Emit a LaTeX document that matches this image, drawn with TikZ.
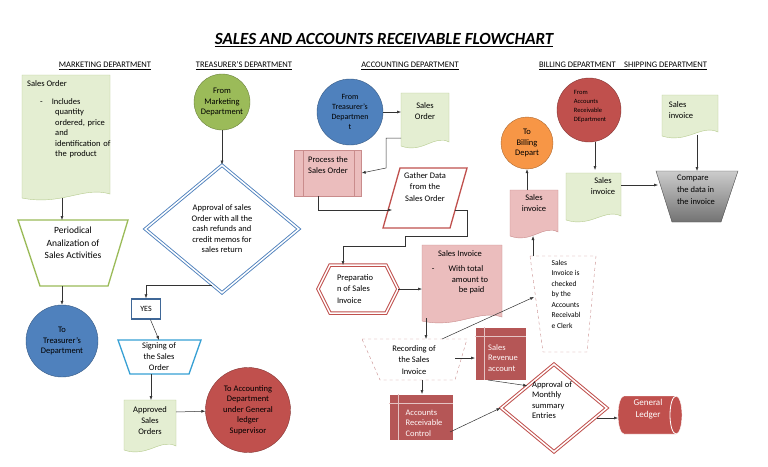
\documentclass[tikz,border=0pt]{standalone}
\usepackage{fontspec}
\setmainfont{Carlito}
\usetikzlibrary{arrows.meta,calc,shapes.geometric}
\definecolor{gfill}{HTML}{E4EED2}\definecolor{gline}{HTML}{B6CB8E}
\definecolor{pfill}{HTML}{EBBDBD}\definecolor{pline}{HTML}{C98C8C}
\definecolor{dred}{HTML}{A83838}\definecolor{mred}{HTML}{C0504D}
\definecolor{bblue}{HTML}{4F81BD}\definecolor{orng}{HTML}{F79646}
\definecolor{grn}{HTML}{9BBB59}
\newcommand{\wdoc}[5]{%
 \pgfmathsetmacro{\ww}{#3-#1}
 \draw[#5] (#1,#2) -- (#3,#2) -- (#3,#4-6) .. controls ({#3-0.3*\ww},{#4-14}) and ({#1+0.45*\ww},{#4+6}) .. (#1,#4-2) -- cycle;}
\newcommand{\tbl}[4]{%
 \fill[dred!85, draw=white] (#1,#2) rectangle (#3,#4);
 \draw[white!70!dred] (#1,#2+9) -- (#3,#2+9) (#1+9,#2) -- (#1+9,#4);}
\tikzset{
 lbl/.style={font=\fontsize{8.5}{10.5}\selectfont, align=center, inner sep=0pt},
 hdr/.style={font=\fontsize{8.5}{10}\selectfont, inner sep=1pt},
 arr/.style={-{Latex[length=4pt,width=3pt]}, black!80, line width=0.5pt},
 circ/.style={circle, inner sep=0pt, font=\fontsize{8.5}{10.5}\selectfont, align=center, draw=#1!70!black, fill=#1},
}
\begin{document}
\begin{tikzpicture}[x=1pt,y=-1pt]
\useasboundingbox (0,0) rectangle (768,466);
\fill[white] (0,0) rectangle (768,466);
% title and headers
\node (title) at (384,40) {\fontsize{17}{20}\selectfont\bfseries\itshape\underline{SALES AND ACCOUNTS RECEIVABLE FLOWCHART}};
\node[hdr] (h1) at (105,66) {\underline{MARKETING DEPARTMENT}};
\node[hdr] (h2) at (244,66) {\underline{TREASURER'S DEPARTMENT}};
\node[hdr] (h3) at (410,66) {\underline{ACCOUNTING DEPARTMENT}};
\node[hdr] (h4) at (623,66) {\underline{BILLING DEPARTMENT\quad SHIPPING DEPARTMENT}};
% ---------- marketing
\wdoc{22}{75}{110}{200}{fill=gfill, draw=gline}
\node[lbl, anchor=north west, align=left] (so1) at (27,80) {Sales Order};
\node[lbl, anchor=north west, align=left, text width=75pt] (so1t) at (40,98) {-\hspace{9pt}Includes\\\hspace{15pt}quantity\\\hspace{15pt}ordered, price\\\hspace{15pt}and\\\hspace{15pt}identification of\\\hspace{15pt}the product};
\coordinate (so1b) at (62,198);
\draw[grn, line width=1.3pt] (18,220) -- (128,220) -- (108,286) -- (40,286) -- cycle;
\coordinate (pa) at (62,220);
\node[lbl, font=\fontsize{9.5}{12.5}\selectfont] (pat) at (73,243) {Periodical\\Analization of\\Sales Activities};
\coordinate (pab) at (62,286);
\node[circ=bblue, minimum size=72pt] (tt) at (62,341) {To\\Treasurer's\\Department};
\draw[arr] (so1b) -- (pa);
\draw[arr] (pab) -- (tt);
% ---------- treasurer
\node[circ=grn, minimum size=56pt] (fm) at (222,102) {From\\Marketing\\Department};
\node[diamond, draw=bblue, double=white, double distance=1.5pt, line width=0.9pt, fill=white, minimum width=154pt, minimum height=128pt, inner sep=0pt] (ap) at (222,229) {};
\node[lbl] (apt) at (222,229) {Approval of sales\\Order with all the\\cash refunds and\\credit memos for\\sales return};
\node[draw=bblue!80!black, line width=1.3pt, minimum width=29pt, minimum height=20pt, inner sep=0pt, font=\fontsize{8}{9}\selectfont] (yes) at (146,309) {YES};
\draw[cyan!60!bblue, line width=1.3pt] (118,340) -- (201,340) -- (189,374) -- (130,374) -- cycle;
\coordinate (sgt) at (159,340); \coordinate (sgb) at (151,374);
\node[lbl, font=\fontsize{8.5}{11}\selectfont] (sg) at (159,357) {Signing of\\the Sales\\Order};
\wdoc{124}{400}{176}{452}{fill=gfill, draw=gline}
\coordinate (aot) at (151,400); \coordinate (aor) at (176,412);
\node[lbl, font=\fontsize{8.5}{11}\selectfont] (ao) at (150,421) {Approved\\Sales\\Orders};
\node[circ=mred, minimum size=85pt] (ta) at (248,410) {To Accounting\\Department\\under General\\ledger\\Supervisor};
\draw[arr] (fm) -- (ap);
\draw[arr] (212,285) -| (yes.north);
\draw[arr] (yes) -- (sgt);
\draw[arr] (sgb) -- (aot);
\draw[arr] (aor) -- (ta);
% ---------- accounting
\node[circ=bblue, minimum size=66pt, font=\fontsize{8}{10}\selectfont] (ft) at (350,112) {From\\Treasurer's\\Departmen\\t};
\wdoc{401}{93}{449}{148}{fill=gfill, draw=gline}
\node[lbl] (so2) at (425,111) {Sales\\Order};
\node[draw=pline, fill=pfill, minimum width=67pt, minimum height=46pt, inner sep=0pt] (ps) at (328,173) {};
\draw[pline] (303,150) -- (303,196) (354,150) -- (354,196);
\node[lbl, font=\fontsize{8.5}{11.5}\selectfont] at (328,165) {Process the\\Sales Order};
\draw[mred, line width=1.3pt, fill=white] (400,168) -- (467,168) -- (450,228) -- (383,228) -- cycle;
\coordinate (gl) at (392,210); \coordinate (gr) at (455,210);
\node[lbl, font=\fontsize{8.5}{11.5}\selectfont] (gd) at (425,187) {Gather Data\\from the\\Sales Order};
\draw[mred, double=white, double distance=1.5pt, line width=1pt, fill=white] (318,289) -- (330,265) -- (386,265) -- (398,289) -- (386,313) -- (330,313) -- cycle;
\coordinate (prt) at (343,265); \coordinate (prr) at (398,289);
\node[lbl, align=left, font=\fontsize{8.5}{11.5}\selectfont] (pr) at (355,289) {Preparatio\\n of Sales\\Invoice};
\wdoc{422}{245}{502}{323}{fill=pfill, draw=pline}
\node[lbl, align=left] (si) at (460,254) {Sales Invoice};
\node[lbl, align=left] (sit) at (460,280) {-\hspace{14pt}With total\\\hspace{20pt}amount to\\\hspace{27pt}be paid};
\coordinate (sil) at (422,289); \coordinate (sib) at (426,318);
\draw[pline, dashed, fill=white] (362,339) -- (467,339) -- (455,380) -- (380,380) -- cycle;
\coordinate (rct) at (426,339); \coordinate (rcr) at (455,358); \coordinate (rcb) at (422,380); \coordinate (rcu) at (442,339);
\node[lbl, font=\fontsize{8.5}{11.5}\selectfont] (rc) at (414,360) {Recording of\\the Sales\\Invoice};
\tbl{475}{327}{526}{380}
\node[lbl, align=left, text=white!90!pink] (sr) at (503,358) {Sales\\Revenue\\account};
\coordinate (srl) at (475,358); \coordinate (srb) at (488,380);
\tbl{389}{394}{453}{440}
\node[lbl, align=left, text=white!90!pink] (ar) at (424,423) {Accounts\\Receivable\\Control};
\coordinate (art) at (422,394); \coordinate (arr) at (450,432);
\node[diamond, draw=mred, double=white, double distance=1.5pt, line width=1pt, fill=white, minimum width=106pt, minimum height=88pt, inner sep=0pt] (am) at (554,408) {};
\node[lbl, align=left] (amt) at (552,400) {Approval of\\Monthly\\summary\\Entries};
\fill[mred, draw=white] (624,396) -- (676,396) arc[start angle=-90, end angle=90, x radius=6, y radius=19] -- (624,434) arc[start angle=90, end angle=270, x radius=6, y radius=19] -- cycle;
\draw[white, line width=0.8pt] (676,396) arc[start angle=270, end angle=90, x radius=6, y radius=19];
\node[lbl, text=white, font=\fontsize{9}{11.5}\selectfont] (gl2) at (648,409) {General\\Ledger};
\coordinate (gll) at (618,418);
\draw[pline, dashed, fill=white] (530,256) -- (596,256) -- (587,352) -- (543,352) -- cycle;
\coordinate (ckl) at (534,297); \coordinate (ckt) at (533,256);
\node[lbl, align=left, font=\fontsize{7.5}{10.5}\selectfont] (ck) at (566,294) {Sales\\Invoice is\\checked\\by the\\Accounts\\Receivabl\\e Clerk};
\draw[arr] (ft) -- (401,112);
\draw[arr] (401,138) -| (386,168) -- (ps.east);
\draw[arr] (318,196) |- (gl);
\draw[arr] (gr) -- (467,210) -- (467,236) -- (405,236) -- (405,246) -| (prt);
\draw[arr] (prr) -- (sil);
\draw[arr] (sib) -- (rct);
\draw[arr] (rcr) -- (srl);
\draw[arr] (rcb) -- (art);
\draw[arr] (rcu) -- (ckl);
\draw[arr] (srb) -- (am.north west);
\draw[arr] (arr) -- (am.west);
\coordinate (ame) at (597,418);
\draw[arr] (ame) -- (gll);
% ---------- billing / shipping
\node[circ=orng, minimum size=52pt] (tb) at (527,143) {To\\Billing\\Depart};
\wdoc{510}{190}{558}{238}{fill=pfill, draw=pline}
\coordinate (bst) at (527,190); \coordinate (bsb) at (533,236);
\node[lbl] (bs) at (534,203) {Sales\\invoice};
\node[circ=mred, minimum size=64pt] (fa) at (589,110) {};
\node[lbl, align=left, font=\fontsize{6.5}{9}\selectfont] at (590,106) {From\\Accounts\\Receivable\\DEpartment};
\wdoc{566}{173}{621}{222}{fill=gfill, draw=gline}
\coordinate (gst) at (595,170); \coordinate (gsr) at (621,185);
\node[lbl] (gs) at (603,186) {Sales\\invoice};
\wdoc{662}{95}{718}{138}{fill=gfill, draw=gline}
\coordinate (shb) at (697,135);
\node[lbl, align=left] (sh) at (681,110) {Sales\\invoice};
\shade[top color=gray!40, bottom color=gray!90!black, draw=gray!60!black] (656,171) -- (738,171) -- (721,222) -- (672,222) -- cycle;
\coordinate (cpt) at (697,171); \coordinate (cpl) at (658,185);
\node[lbl, align=left, font=\fontsize{8.5}{12}\selectfont] (cp) at (696,190) {Compare\\the data in\\the invoice};
\draw[arr] (ckt) -- (bsb);
\draw[arr] (bst) -- (tb);
\draw[arr] (fa.south) ++(6,0) -- (gst);
\draw[arr] (gsr) -- (cpl);
\draw[arr] (shb) -- (cpt);
\end{tikzpicture}
\end{document}
